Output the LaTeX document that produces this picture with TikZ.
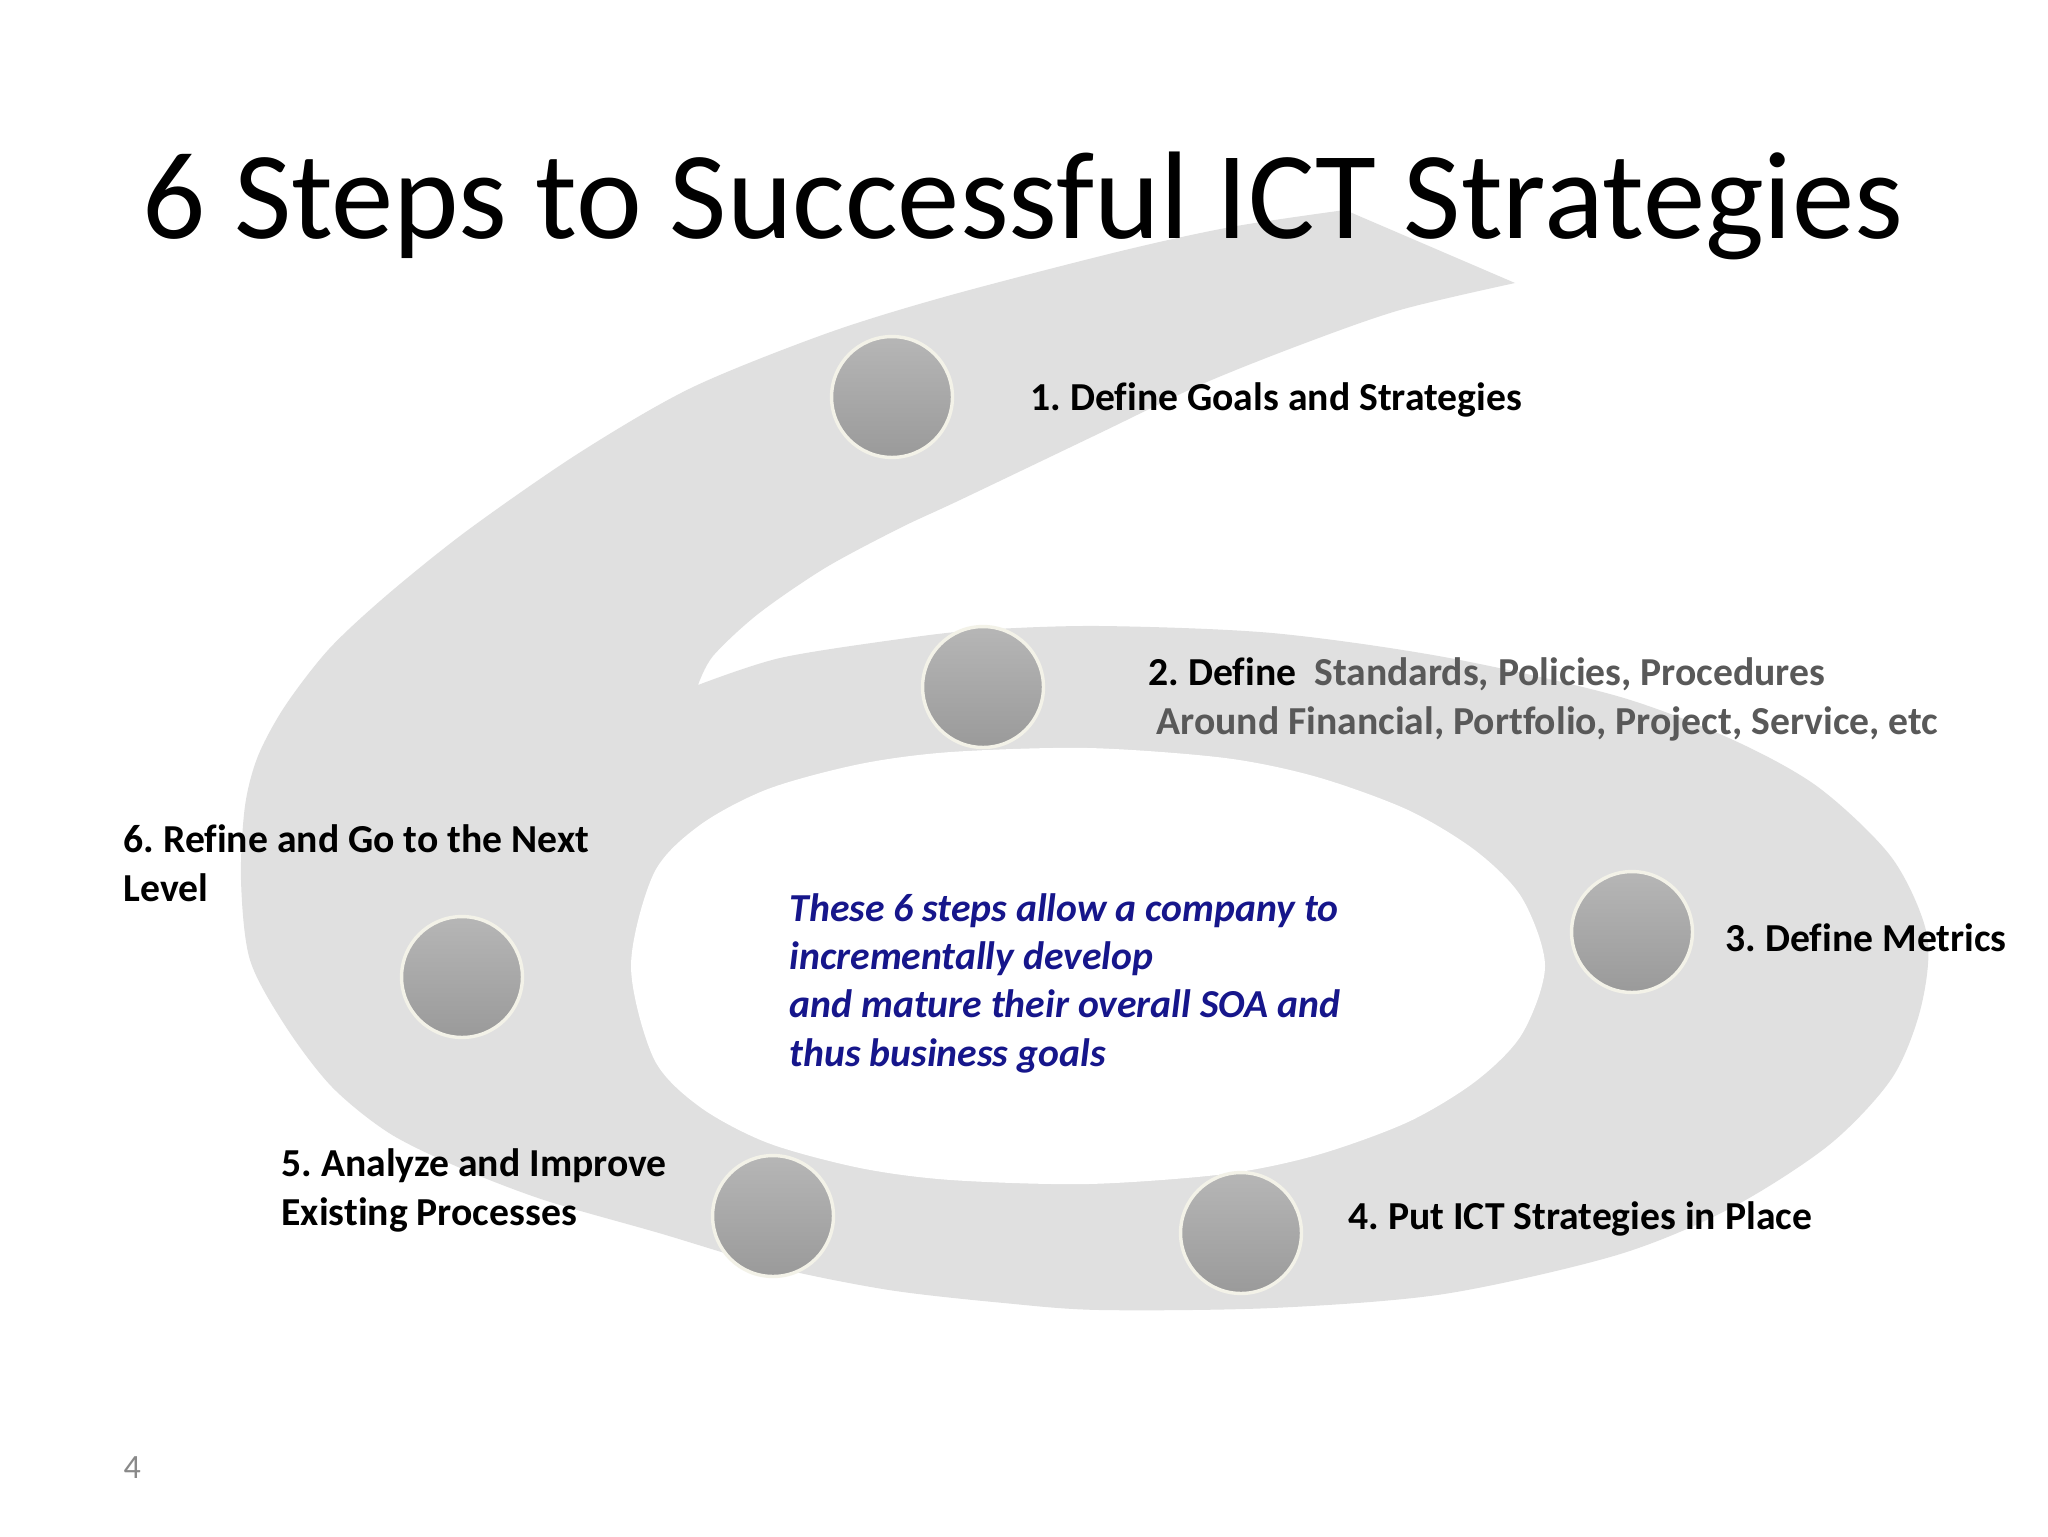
\documentclass[tikz,border=0pt]{standalone}
\usepackage{fontspec}
\setmainfont{Carlito}[Ligatures=NoCommon]
\usepackage{xcolor}
\definecolor{sixgray}{RGB}{224,224,224}
\definecolor{ringcream}{RGB}{243,242,232}
\definecolor{dotlight}{RGB}{182,182,182}
\definecolor{dotdark}{RGB}{154,154,154}
\definecolor{softtext}{RGB}{89,89,89}
\definecolor{navytext}{RGB}{22,22,139}
\definecolor{pagegray}{RGB}{137,137,137}
\frenchspacing

\begin{document}
\begin{tikzpicture}[x=0.0124023cm, y=-0.0124023cm,
  stepdot/.style={circle, minimum size=1.5cm, inner sep=0pt, draw=ringcream, line width=1.2pt,
    top color=dotlight, bottom color=dotdark},
  steplabel/.style={anchor=base west, align=left, inner sep=0pt,
    font=\fontsize{14}{17}\selectfont\bfseries}]
\useasboundingbox (0,0) rectangle (2048,1536);
\fill[white] (0,0) rectangle (2048,1536);

% The big six
\fill[sixgray] (1515,283) -- (1345,210)
  -- plot[smooth] coordinates {(1345,210) (1231,227) (1117,252) (944,297) (825,334) (691,388)
     (579,453) (468,530) (387,595) (329,649) (285,706) (258,756) (245,806) (241,880) (250,960)
     (286,1027) (332,1087) (389,1133) (458,1167) (544,1200) (659,1233) (774,1267) (889,1290)
     (1004,1303) (1100,1310) (1272,1308) (1444,1294) (1617,1255) (1731,1208) (1829,1145)
     (1892,1078) (1921,1007) (1927,935) (1892,858) (1818,787) (1731,739) (1617,696) (1444,657)
     (1272,633) (1100,626) (980,630) (900,639) (780,658) (698,685)}
  -- plot[smooth] coordinates {(698,685) (713,656) (758,614) (825,568) (900,528) (960,500)
     (1100,433) (1200,385) (1300,345) (1400,310) (1515,283)}
  -- cycle;
% hole of the six
\fill[white] plot[smooth cycle] coordinates {(1088,748) (1225,758) (1317,777) (1408,810)
  (1476,851) (1522,898) (1545,966) (1522,1034) (1476,1081) (1408,1122) (1317,1155) (1225,1174)
  (1088,1184) (951,1180) (860,1168) (768,1143) (700,1107) (654,1059) (631,966) (654,873)
  (700,825) (768,789) (860,764) (951,752)};

% Title
\node[anchor=base, inner sep=0pt, font=\fontsize{44}{53}\selectfont] (title) at (1023,238)
  {6 Steps to Successful ICT Strategies};

% Steps
\node[stepdot] (s1) at (892,397) {};
\node[stepdot] (s2) at (983,687) {};
\node[stepdot] (s3) at (1632,932) {};
\node[stepdot] (s4) at (1241,1233) {};
\node[stepdot] (s5) at (773,1216) {};
\node[stepdot] (s6) at (462,977) {};

\node[steplabel] (l1) at (1030,410) {1. Define Goals and Strategies};
\node[steplabel] (l2) at (1148,734) {2. Define\hspace{0.45em}{\color{softtext}Standards, Policies, Procedures}\\
  \hspace*{0.2em}{\color{softtext}Around Financial, Portfolio, Project, Service, etc}};
\node[steplabel] (l3) at (1725,951) {3. Define Metrics};
\node[steplabel] (l4) at (1348,1229) {4. Put ICT Strategies in Place};
\node[steplabel] (l5) at (281,1225) {5. Analyze and Improve\\Existing Processes};
\node[steplabel] (l6) at (123,901) {6. Refine and Go to the Next\\Level};

% Middle note
\node[steplabel, text=navytext, font=\fontsize{14}{17}\selectfont\bfseries\itshape] (note) at (789,1066)
  {These 6 steps allow a company to\\incrementally develop\\and mature their overall SOA and\\thus business goals};

\node[anchor=base west, inner sep=0pt, text=pagegray, font=\fontsize{12}{14}\selectfont] (page) at (123,1478) {4};
\end{tikzpicture}
\end{document}
